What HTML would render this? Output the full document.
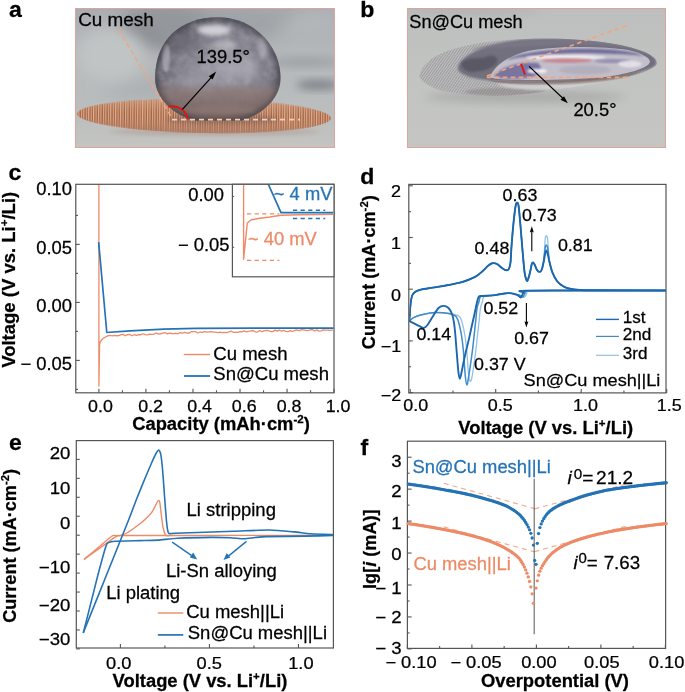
<!DOCTYPE html>
<html><head><meta charset="utf-8"><style>
html,body{margin:0;padding:0;background:#fff;}
svg{display:block;}
text{font-family:'Liberation Sans', Arial, sans-serif;stroke-width:0.25px;}
</style></head><body>
<svg width="685" height="692" viewBox="0 0 685 692">
<rect x="0" y="0" width="685" height="692" fill="#fff"/>
<defs>
<clipPath id="cpa"><rect x="75" y="8" width="260" height="140"/></clipPath>
<clipPath id="cpb"><rect x="407" y="8" width="259" height="140"/></clipPath>
<clipPath id="cpball"><path d="M155.1,78 C155.1,40 180.5,17.3 217.8,17.3 C252.5,17.3 280.5,44.5 280.5,78 A62.7,46 0 0 1 155.1,78 Z"/></clipPath><clipPath id="cpballb"><rect x="140" y="10" width="160" height="110.6"/></clipPath>
<clipPath id="cpdiskb"><path d="M419.3,75.5 C422,66 430,58 445,52 C465,44 495,40 525,39 C570,37 620,42 645,52 C655,57 658,61 656.5,64.5 C650,72 630,78 600,83 C570,88 540,93 510,95.5 C480,97 455,94 440,90 C428,86 420,81 419.3,75.5 Z"/></clipPath>
<filter id="bl05" x="-5%" y="-5%" width="110%" height="110%"><feGaussianBlur stdDeviation="0.45"/></filter>
<filter id="bl1" x="-20%" y="-20%" width="140%" height="140%"><feGaussianBlur stdDeviation="1"/></filter>
<filter id="bl2" x="-30%" y="-30%" width="160%" height="160%"><feGaussianBlur stdDeviation="2"/></filter>
<filter id="bl4" x="-50%" y="-50%" width="200%" height="200%"><feGaussianBlur stdDeviation="4"/></filter>
<filter id="bl8" x="-50%" y="-50%" width="200%" height="200%"><feGaussianBlur stdDeviation="8"/></filter>
<filter id="noise" x="0" y="0" width="100%" height="100%">
 <feTurbulence type="fractalNoise" baseFrequency="0.09" numOctaves="3" seed="4" result="t"/>
 <feColorMatrix in="t" type="matrix" values="0 0 0 0 0.5  0 0 0 0 0.5  0 0 0 0 0.52  0 0 0 1.6 -0.55" result="n"/>
 <feComposite in="n" in2="SourceGraphic" operator="in"/>
</filter>
<linearGradient id="bga" x1="0" y1="0" x2="0" y2="1">
 <stop offset="0" stop-color="#a9adb1"/><stop offset="0.3" stop-color="#b3b7b9"/>
 <stop offset="0.62" stop-color="#b9bcbd"/><stop offset="0.8" stop-color="#bdbfbe"/><stop offset="1" stop-color="#c4c5c2"/></linearGradient>
<pattern id="mesha" x="0" y="0" width="2.45" height="4" patternUnits="userSpaceOnUse">
 <rect width="2.45" height="4" fill="#a0603f"/><rect x="0" width="1.1" height="4" fill="#e4b496"/></pattern>
<linearGradient id="diskshade" x1="0" y1="0" x2="0" y2="1">
 <stop offset="0" stop-color="#ecc8b0" stop-opacity="0.35"/><stop offset="0.5" stop-color="#c08a70" stop-opacity="0.05"/><stop offset="1" stop-color="#9a6650" stop-opacity="0.35"/></linearGradient>
<radialGradient id="balla" cx="0.52" cy="0.5" r="0.56" fx="0.55" fy="0.45">
 <stop offset="0" stop-color="#a09eaa"/><stop offset="0.35" stop-color="#8c8a96"/><stop offset="0.65" stop-color="#7c7a86"/>
 <stop offset="0.87" stop-color="#62606c"/><stop offset="1" stop-color="#4a4854"/></radialGradient>
<linearGradient id="ballb" gradientUnits="userSpaceOnUse" x1="0" y1="15" x2="0" y2="125">
 <stop offset="0" stop-color="#8a7a78" stop-opacity="0"/><stop offset="0.6" stop-color="#8a7a78" stop-opacity="0"/>
 <stop offset="0.7" stop-color="#8c7874" stop-opacity="0.78"/><stop offset="0.88" stop-color="#7a6662" stop-opacity="0.88"/><stop offset="1" stop-color="#5c4a48" stop-opacity="0.95"/></linearGradient>
<linearGradient id="bgb" x1="0" y1="0" x2="0" y2="1">
 <stop offset="0" stop-color="#bdbfbe"/><stop offset="0.5" stop-color="#c2c4c2"/><stop offset="1" stop-color="#c5c6c4"/></linearGradient>
<pattern id="meshb" x="0" y="0" width="2.2" height="2.2" patternUnits="userSpaceOnUse" patternTransform="rotate(35)">
 <rect width="2.2" height="2.2" fill="#c4c4c4"/><rect width="0.8" height="2.2" fill="#949496"/><rect width="2.2" height="0.5" fill="#a8a8aa"/></pattern>
<linearGradient id="liq" x1="0" y1="0" x2="0" y2="1">
 <stop offset="0" stop-color="#8c8a96"/><stop offset="0.3" stop-color="#b8b5c0"/>
 <stop offset="0.6" stop-color="#c8c5cc"/><stop offset="1" stop-color="#a8a5ae"/></linearGradient>
</defs>
<g clip-path="url(#cpa)">
<rect x="75" y="8" width="260" height="140" fill="url(#bga)"/>
<ellipse cx="165" cy="28" rx="45" ry="20" fill="#868a90" filter="url(#bl8)"/>
<ellipse cx="300" cy="22" rx="45" ry="9" fill="#b4b8bb" filter="url(#bl8)"/>
<path d="M130,8 L300,8 L270,40 L160,45 Z" fill="#9a9ea2" opacity="0.7" filter="url(#bl8)"/>
<ellipse cx="305" cy="62" rx="35" ry="5" fill="#9da2a6" filter="url(#bl4)"/>
<ellipse cx="318" cy="85" rx="22" ry="5" fill="#7f848a" filter="url(#bl4)"/>
<ellipse cx="150" cy="88" rx="50" ry="12" fill="#adb1b3" filter="url(#bl8)"/>
<ellipse cx="110" cy="55" rx="35" ry="28" fill="#c0c4c4" filter="url(#bl8)"/>
<g transform="rotate(1 204 116)">
<ellipse cx="204" cy="116" rx="127" ry="17" fill="url(#mesha)" filter="url(#bl05)"/>
<ellipse cx="204" cy="116" rx="127" ry="17" fill="url(#diskshade)"/>
</g>
<ellipse cx="215" cy="132" rx="105" ry="3.5" fill="#a88478" opacity="0.4" filter="url(#bl2)"/>
<ellipse cx="222" cy="119.5" rx="56" ry="5" fill="#6a5a58" opacity="0.45" filter="url(#bl2)"/>
<g clip-path="url(#cpballb)">
<path d="M155.1,78 C155.1,40 180.5,17.3 217.8,17.3 C252.5,17.3 280.5,44.5 280.5,78 A62.7,46 0 0 1 155.1,78 Z" fill="url(#balla)"/>
<g clip-path="url(#cpball)">
<rect x="150" y="15" width="140" height="110" fill="#888" filter="url(#noise)" opacity="0.5"/>
<rect x="150" y="15" width="140" height="110" fill="url(#ballb)"/>
<ellipse cx="185" cy="42" rx="16" ry="12" fill="#5e5e66" opacity="0.5" filter="url(#bl4)"/>
<ellipse cx="214" cy="30" rx="16" ry="5.5" fill="#d8d8de" opacity="0.9" filter="url(#bl2)"/>
<ellipse cx="225" cy="45" rx="12" ry="5" fill="#c0c0c8" opacity="0.6" filter="url(#bl2)"/>
<ellipse cx="166" cy="58" rx="4" ry="14" fill="#bdbdc4" opacity="0.6" filter="url(#bl1)"/>
<ellipse cx="196" cy="80" rx="22" ry="9" fill="#a3a3ab" opacity="0.35" filter="url(#bl4)"/>
<ellipse cx="243" cy="68" rx="16" ry="10" fill="#b4b4bb" opacity="0.5" filter="url(#bl4)"/>
<ellipse cx="263" cy="46" rx="5" ry="13" fill="#c3c3ca" opacity="0.55" filter="url(#bl2)"/>
<ellipse cx="222" cy="110" rx="36" ry="5" fill="#94807c" opacity="0.5" filter="url(#bl2)"/>
<path d="M155.1,78 C155.1,40 180.5,17.3 217.8,17.3 C252.5,17.3 280.5,44.5 280.5,78 A62.7,46 0 0 1 155.1,78 Z" fill="none" stroke="#42424a" stroke-width="6" opacity="0.6" filter="url(#bl2)"/>
</g>
</g>
<line x1="118.5" y1="29.8" x2="172" y2="118.2" stroke="#f3a47f" stroke-width="1.6" stroke-dasharray="4.5,3.5"/>
<line x1="172" y1="119.6" x2="300" y2="119.6" stroke="#f8cdb5" stroke-width="1.6" stroke-dasharray="5,4"/>
<path d="M168.4,106.6 A16,16 0 0 1 187.8,119.3" fill="none" stroke="#e8100e" stroke-width="1.8"/>
<line x1="182.4" y1="109.3" x2="214" y2="74.3" stroke="#000" stroke-width="1.2"/>
<path d="M216.2,71.5 L208.8,76.3 L212.6,79.6 Z" fill="#000"/>
</g>
<rect x="75.5" y="8.5" width="259" height="139" fill="none" stroke="#d9a59d" stroke-width="1"/>
<text x="0" y="0" transform="translate(78.20,25.80) scale(1.05,1)" font-size="18" text-anchor="start" fill="#000" stroke="#000" >Cu mesh</text>
<text x="0" y="0" transform="translate(196.50,63.40) scale(1.05,1)" font-size="17.5" text-anchor="start" fill="#000" stroke="#000" >139.5°</text>
<g clip-path="url(#cpb)">
<rect x="407" y="8" width="259" height="140" fill="url(#bgb)"/>
<ellipse cx="470" cy="11" rx="70" ry="4" fill="#b0b2b2" filter="url(#bl4)"/>
<ellipse cx="525" cy="97" rx="100" ry="6" fill="#a6a7a6" opacity="0.85" filter="url(#bl4)"/>
<g clip-path="url(#cpdiskb)">
<rect x="415" y="35" width="245" height="65" fill="url(#meshb)"/>
<rect x="415" y="35" width="245" height="65" fill="#acacae" opacity="0.2"/>
<ellipse cx="505" cy="92" rx="40" ry="4" fill="#8a8080" opacity="0.5" filter="url(#bl1)"/>
<path d="M458,70 C457,64 462,59 470,54 C482,47 500,42 525,39.5 C570,36.5 625,42 648,53 C656,57 658,62 655,66 C644,73 616,78 586,80.5 C552,82.5 516,82 490,80.5 C475,79 462,76 458,70 Z" fill="#72707e" filter="url(#bl1)"/>
<path d="M462,62 C470,56 480,60 488,56 C494,54 500,58 496,64 C490,70 480,72 470,72 C464,70 460,67 462,62 Z" fill="#55535f" opacity="0.8" filter="url(#bl1)"/>
<path d="M470,50 C490,44 520,40 560,39 C600,38.5 630,43 645,50 C620,46 590,44 560,45 C530,46 500,48 470,50 Z" fill="#7a7888" opacity="0.8" filter="url(#bl1)"/>
<path d="M490,77 C494,66 508,56 528,51 C556,46 600,46 628,50 C642,53 650,58 650,62 C648,68 632,73 605,77 C575,80 535,80.5 505,79.5 C496,79 491,78 490,77 Z" fill="#c2bfca" filter="url(#bl05)"/>
<clipPath id="cpliq"><path d="M490,77 C494,66 508,56 528,51 C556,46 600,46 628,50 C642,53 650,58 650,62 C648,68 632,73 605,77 C575,80 535,80.5 505,79.5 C496,79 491,78 490,77 Z"/></clipPath>
<g clip-path="url(#cpliq)">
<path d="M505,60 C522,52 556,48 596,49 C620,49.5 636,52 644,56 C624,54 598,53 566,53.5 C540,54.5 520,57 505,60 Z" fill="#4e4a86" opacity="0.7" filter="url(#bl1)"/>
<ellipse cx="566" cy="57.5" rx="40" ry="2.6" fill="#f4f2f6" opacity="0.85" filter="url(#bl1)"/>
<ellipse cx="567" cy="60.5" rx="26" ry="2.2" fill="#c47882" opacity="0.85" filter="url(#bl1)"/>
<ellipse cx="612" cy="61" rx="18" ry="2" fill="#6a6098" opacity="0.5" filter="url(#bl1)"/>
<path d="M494,76 C502,67 516,62 538,63 C544,69 540,75 528,78 C514,79.5 500,79 494,76 Z" fill="#5c5490" opacity="0.7" filter="url(#bl1)"/>
<ellipse cx="537" cy="71" rx="10" ry="2.3" fill="#f6f4f8" opacity="0.9" filter="url(#bl1)"/>
<ellipse cx="585" cy="70" rx="26" ry="4.5" fill="#a8a4b2" opacity="0.55" filter="url(#bl1)"/>
<ellipse cx="630" cy="64" rx="12" ry="3.5" fill="#eceaf0" opacity="0.75" filter="url(#bl1)"/>
</g>
<path d="M488,80.5 C530,83 590,82 640,72 C630,78 600,84 560,85 C525,85.5 500,84 488,80.5 Z" fill="#7e6258" opacity="0.6"/>
<path d="M497,83.5 C540,86 600,84 640,75 C620,87 575,90.5 530,90 C512,89 502,87 497,83.5 Z" fill="#d6d6d8" opacity="0.8" filter="url(#bl1)"/>
</g>
<line x1="486.8" y1="76" x2="627" y2="25.5" stroke="#f3a47f" stroke-width="1.6" stroke-dasharray="4.5,3.5"/>
<line x1="486.8" y1="77.4" x2="627.4" y2="77.4" stroke="#f3a47f" stroke-width="1.6" stroke-dasharray="4.5,3.5"/>
<line x1="521" y1="63.7" x2="525" y2="74.6" stroke="#e8100e" stroke-width="1.8"/>
<line x1="529.1" y1="66.4" x2="565.5" y2="100.8" stroke="#000" stroke-width="1.2"/>
<path d="M567.9,103.3 L560.5,99.8 L564,96.2 Z" fill="#000"/>
</g>
<rect x="407.5" y="8.5" width="258" height="139" fill="none" stroke="#d9a59d" stroke-width="1"/>
<text x="0" y="0" transform="translate(409.30,27.70) scale(1.01,1)" font-size="18" text-anchor="start" fill="#000" stroke="#000" >Sn@Cu mesh</text>
<text x="0" y="0" transform="translate(573.40,115.50) scale(1.05,1)" font-size="17.5" text-anchor="start" fill="#000" stroke="#000" >20.5°</text>
<clipPath id="cpc"><rect x="76" y="184.3" width="257.5" height="208"/></clipPath>
<g clip-path="url(#cpc)">
<path d="M98.90,180.00 L98.90,386.10 L99.60,345.00 L100.30,341.70 L103.00,338.50 L107.20,336.00 L110.00,335.39 L112.20,335.85 L114.40,335.43 L116.60,335.76 L118.80,335.70 L121.00,334.59 L123.20,334.39 L125.40,335.78 L127.60,334.64 L129.80,334.50 L132.00,335.77 L134.20,334.72 L136.40,335.28 L138.60,334.54 L140.80,334.73 L143.00,333.75 L145.20,334.52 L147.40,334.84 L149.60,334.12 L151.80,334.42 L154.00,334.19 L156.20,333.00 L158.40,334.15 L160.60,333.75 L162.80,333.13 L165.00,332.55 L167.20,333.95 L169.40,333.14 L171.60,333.49 L173.80,333.68 L176.00,333.28 L178.20,333.55 L180.40,332.51 L182.60,333.14 L184.80,332.40 L187.00,333.18 L189.20,332.98 L191.40,331.55 L193.60,331.59 L195.80,331.70 L198.00,333.01 L200.20,332.02 L202.40,332.33 L204.60,331.71 L206.80,332.04 L209.00,331.79 L211.20,331.69 L213.40,332.08 L215.60,332.04 L217.80,332.58 L220.00,332.15 L222.20,332.56 L224.40,332.39 L226.60,332.60 L228.80,331.99 L231.00,331.04 L233.20,332.26 L235.40,332.41 L237.60,332.27 L239.80,331.63 L242.00,331.85 L244.20,330.91 L246.40,331.99 L248.60,331.49 L250.80,330.94 L253.00,330.51 L255.20,331.89 L257.40,332.10 L259.60,330.45 L261.80,331.69 L264.00,330.95 L266.20,330.45 L268.40,330.67 L270.60,331.49 L272.80,331.65 L275.00,330.12 L277.20,331.11 L279.40,330.05 L281.60,331.23 L283.80,330.49 L286.00,331.45 L288.20,331.59 L290.40,330.70 L292.60,331.56 L294.80,330.28 L297.00,329.83 L299.20,330.73 L301.40,329.67 L303.60,329.94 L305.80,330.28 L308.00,330.61 L310.20,329.76 L312.40,329.52 L314.60,330.97 L316.80,329.94 L319.00,331.06 L321.20,330.91 L323.40,329.95 L325.60,330.06 L327.80,330.13 L330.00,330.32 L332.20,330.20" fill="none" stroke="#EE8A66" stroke-width="1.3" stroke-linejoin="round" stroke-linecap="round" />
<path d="M98.70,242.80 L106.80,332.50 L130.00,330.80 L163.90,329.20 L196.00,328.40 L260.00,328.20 L334.00,328.10" fill="none" stroke="#2473B5" stroke-width="1.7" stroke-linejoin="round" stroke-linecap="round" />
</g>
<rect x="75.8" y="184.3" width="258.2" height="208.5" fill="none" stroke="#555555" stroke-width="1.2"/>
<line x1="75.80" y1="215.40" x2="78.00" y2="215.40" stroke="#555555" stroke-width="1.1" />
<line x1="75.80" y1="244.40" x2="79.80" y2="244.40" stroke="#555555" stroke-width="1.1" />
<line x1="75.80" y1="273.40" x2="78.00" y2="273.40" stroke="#555555" stroke-width="1.1" />
<line x1="75.80" y1="302.40" x2="79.80" y2="302.40" stroke="#555555" stroke-width="1.1" />
<line x1="75.80" y1="331.40" x2="78.00" y2="331.40" stroke="#555555" stroke-width="1.1" />
<line x1="75.80" y1="360.40" x2="79.80" y2="360.40" stroke="#555555" stroke-width="1.1" />
<line x1="75.80" y1="389.40" x2="78.00" y2="389.40" stroke="#555555" stroke-width="1.1" />
<line x1="98.90" y1="392.80" x2="98.90" y2="388.80" stroke="#555555" stroke-width="1.1" />
<line x1="122.42" y1="392.80" x2="122.42" y2="390.30" stroke="#555555" stroke-width="1.1" />
<line x1="145.94" y1="392.80" x2="145.94" y2="388.80" stroke="#555555" stroke-width="1.1" />
<line x1="169.46" y1="392.80" x2="169.46" y2="390.30" stroke="#555555" stroke-width="1.1" />
<line x1="192.98" y1="392.80" x2="192.98" y2="388.80" stroke="#555555" stroke-width="1.1" />
<line x1="216.50" y1="392.80" x2="216.50" y2="390.30" stroke="#555555" stroke-width="1.1" />
<line x1="240.02" y1="392.80" x2="240.02" y2="388.80" stroke="#555555" stroke-width="1.1" />
<line x1="263.54" y1="392.80" x2="263.54" y2="390.30" stroke="#555555" stroke-width="1.1" />
<line x1="287.06" y1="392.80" x2="287.06" y2="388.80" stroke="#555555" stroke-width="1.1" />
<line x1="310.58" y1="392.80" x2="310.58" y2="390.30" stroke="#555555" stroke-width="1.1" />
<line x1="334.10" y1="392.80" x2="334.10" y2="388.80" stroke="#555555" stroke-width="1.1" />
<text x="0" y="0" transform="translate(72.00,194.60) scale(1.05,1)" font-size="17.5" text-anchor="end" fill="#000" stroke="#000" >0.10</text>
<text x="0" y="0" transform="translate(72.00,254.00) scale(1.05,1)" font-size="17.5" text-anchor="end" fill="#000" stroke="#000" >0.05</text>
<text x="0" y="0" transform="translate(72.00,311.80) scale(1.05,1)" font-size="17.5" text-anchor="end" fill="#000" stroke="#000" >0.00</text>
<text x="0" y="0" transform="translate(72.00,369.60) scale(1.05,1)" font-size="17.5" text-anchor="end" fill="#000" stroke="#000" >− 0.05</text>
<text x="0" y="0" transform="translate(100.40,412.30) scale(1.08,1)" font-size="16.5" text-anchor="middle" fill="#000" stroke="#000" >0.0</text>
<text x="0" y="0" transform="translate(150.60,412.30) scale(1.08,1)" font-size="16.5" text-anchor="middle" fill="#000" stroke="#000" >0.2</text>
<text x="0" y="0" transform="translate(199.50,412.30) scale(1.08,1)" font-size="16.5" text-anchor="middle" fill="#000" stroke="#000" >0.4</text>
<text x="0" y="0" transform="translate(244.20,412.30) scale(1.08,1)" font-size="16.5" text-anchor="middle" fill="#000" stroke="#000" >0.6</text>
<text x="0" y="0" transform="translate(289.00,412.30) scale(1.08,1)" font-size="16.5" text-anchor="middle" fill="#000" stroke="#000" >0.8</text>
<text x="0" y="0" transform="translate(338.00,412.30) scale(1.08,1)" font-size="16.5" text-anchor="middle" fill="#000" stroke="#000" >1.0</text>
<rect x="232.4" y="184.3" width="101.6" height="92.5" fill="#fff" stroke="#555" stroke-width="1.2"/>
<clipPath id="cpci"><rect x="233" y="184.9" width="100" height="91.3"/></clipPath>
<g clip-path="url(#cpci)">
<line x1="247.00" y1="213.80" x2="279.40" y2="213.80" stroke="#EE8A66" stroke-width="1.3" stroke-dasharray="4.2,3.4" />
<line x1="247.00" y1="260.30" x2="279.40" y2="260.30" stroke="#EE8A66" stroke-width="1.3" stroke-dasharray="4.2,3.4" />
<line x1="293.00" y1="210.20" x2="325.20" y2="210.20" stroke="#2473B5" stroke-width="1.5" stroke-dasharray="4.2,3.4" />
<line x1="293.00" y1="218.50" x2="325.20" y2="218.50" stroke="#2473B5" stroke-width="1.5" stroke-dasharray="4.2,3.4" />
<path d="M243.60,180.00 L243.60,259.20 L247.30,223.00 L251.30,219.80 L260.00,218.30 L270.00,217.00 L281.00,215.30 L300.00,214.80 L320.00,214.50 L334.00,214.20" fill="none" stroke="#EE8A66" stroke-width="1.4" stroke-linejoin="round" stroke-linecap="round" />
<path d="M267.30,182.00 L281.00,212.60 L334.00,212.60" fill="none" stroke="#2473B5" stroke-width="1.7" stroke-linejoin="round" stroke-linecap="round" />
</g>
<line x1="232.40" y1="196.40" x2="234.20" y2="196.40" stroke="#555555" stroke-width="1.0" />
<line x1="232.40" y1="247.30" x2="234.20" y2="247.30" stroke="#555555" stroke-width="1.0" />
<text x="0" y="0" transform="translate(224.00,200.90) scale(1.05,1)" font-size="17.5" text-anchor="end" fill="#000" stroke="#000" >0.00</text>
<text x="0" y="0" transform="translate(229.50,251.10) scale(1.05,1)" font-size="17.5" text-anchor="end" fill="#000" stroke="#000" >− 0.05</text>
<text x="0" y="0" transform="translate(273.80,200.10) scale(1.02,1)" font-size="18" text-anchor="start" fill="#2473B5" stroke="#2473B5" >~ 4 mV</text>
<text x="0" y="0" transform="translate(247.90,245.00) scale(1.02,1)" font-size="18" text-anchor="start" fill="#EE8A66" stroke="#EE8A66" >~ 40 mV</text>
<line x1="183.80" y1="354.50" x2="210.10" y2="354.50" stroke="#EE8A66" stroke-width="1.4" />
<line x1="184.00" y1="376.00" x2="210.10" y2="376.00" stroke="#2473B5" stroke-width="1.8" />
<text x="0" y="0" transform="translate(213.30,360.10) scale(1.03,1)" font-size="18" text-anchor="start" fill="#000" stroke="#000" >Cu mesh</text>
<text x="0" y="0" transform="translate(213.30,379.80) scale(1.03,1)" font-size="18" text-anchor="start" fill="#000" stroke="#000" >Sn@Cu mesh</text>
<text x="0" y="0" transform="translate(221.00,429.80) scale(1.05,1)" font-size="17.5" text-anchor="middle" fill="#000" stroke="#000" font-weight="bold" >Capacity (mAh·cm<tspan font-size="11" dy="-7">-2</tspan><tspan dy="7">)</tspan></text>
<text x="0" y="0" transform="translate(15.20,279.80) rotate(-90) scale(1.057,1)" font-size="17.5" text-anchor="middle" fill="#000" stroke="#000" font-weight="bold">Voltage (V vs. Li<tspan font-size="11" dy="-7">+</tspan><tspan dy="7">/Li)</tspan></text>
<clipPath id="cpd"><rect x="409.4" y="185" width="256.4" height="207"/></clipPath>
<g clip-path="url(#cpd)">
<path d="M667.00,290.60 C655.83,290.60 622.97,290.58 600.00,290.60 C577.03,290.62 541.38,290.30 529.20,290.70 C517.02,291.10 527.65,291.95 526.90,293.00 C526.15,294.05 525.77,296.55 524.70,297.00 C523.63,297.45 521.87,296.10 520.50,295.70 C519.13,295.30 518.33,295.03 516.50,294.60 C514.67,294.17 511.75,293.25 509.50,293.10 C507.25,292.95 505.08,293.42 503.00,293.70 C500.92,293.98 499.33,294.48 497.00,294.80 C494.67,295.12 490.85,295.37 489.00,295.60 C487.15,295.83 486.82,295.93 485.90,296.20 C484.98,296.47 484.15,296.07 483.50,297.20 C482.85,298.33 482.50,301.20 482.00,303.00 C481.50,304.80 480.97,305.17 480.50,308.00 C480.03,310.83 479.70,315.42 479.20,320.00 C478.70,324.58 478.05,330.50 477.50,335.50 C476.95,340.50 476.53,344.93 475.90,350.00 C475.27,355.07 474.35,361.40 473.70,365.90 C473.05,370.40 472.57,374.40 472.00,377.00 C471.43,379.60 470.85,381.67 470.30,381.50 C469.75,381.33 469.28,381.13 468.70,376.00 C468.12,370.87 467.42,357.37 466.80,350.70 C466.18,344.03 465.63,340.12 465.00,336.00 C464.37,331.88 463.68,328.83 463.00,326.00 C462.32,323.17 461.65,320.70 460.90,319.00 C460.15,317.30 460.48,316.72 458.50,315.80 C456.52,314.88 452.85,314.03 449.00,313.50 C445.15,312.97 439.73,312.45 435.40,312.60 C431.07,312.75 426.55,313.62 423.00,314.40 C419.45,315.18 416.38,316.18 414.10,317.30 C411.82,318.42 410.10,320.47 409.30,321.10" fill="none" stroke="#93c1e6" stroke-width="1.3" stroke-linejoin="round" stroke-linecap="round" />
<path d="M409.30,321.10 C409.52,318.25 410.12,308.27 410.60,304.00 C411.08,299.73 411.38,297.57 412.20,295.50 C413.02,293.43 414.03,292.58 415.50,291.60 C416.97,290.62 418.08,290.27 421.00,289.60 C423.92,288.93 428.67,288.32 433.00,287.60 C437.33,286.88 442.50,286.13 447.00,285.30 C451.50,284.47 456.50,283.48 460.00,282.60 C463.50,281.72 465.33,281.03 468.00,280.00 C470.67,278.97 473.50,277.93 476.00,276.40 C478.50,274.87 481.00,272.57 483.00,270.80 C485.00,269.03 486.45,267.07 488.00,265.80 C489.55,264.53 490.80,263.50 492.30,263.20 C493.80,262.90 495.38,263.20 497.00,264.00 C498.62,264.80 500.43,266.95 502.00,268.00 C503.57,269.05 505.23,270.20 506.40,270.30 C507.57,270.40 508.32,269.90 509.00,268.60 C509.68,267.30 510.07,266.43 510.50,262.50 C510.93,258.57 511.08,251.75 511.60,245.00 C512.12,238.25 512.93,228.50 513.60,222.00 C514.27,215.50 515.03,209.23 515.60,206.00 C516.17,202.77 516.50,202.60 517.00,202.60 C517.50,202.60 518.02,202.10 518.60,206.00 C519.18,209.90 519.83,218.42 520.50,226.00 C521.17,233.58 521.92,243.75 522.60,251.50 C523.28,259.25 523.95,267.72 524.60,272.50 C525.25,277.28 525.97,278.95 526.50,280.20 C527.03,281.45 527.22,281.28 527.80,280.00 C528.38,278.72 529.33,275.17 530.00,272.50 C530.67,269.83 531.28,265.68 531.80,264.00 C532.32,262.32 532.63,262.32 533.10,262.40 C533.57,262.48 533.95,263.23 534.60,264.50 C535.25,265.77 536.13,268.77 537.00,270.00 C537.87,271.23 539.00,271.98 539.80,271.90 C540.60,271.82 541.17,271.15 541.80,269.50 C542.43,267.85 543.03,267.07 543.60,262.00 C544.17,256.93 544.75,243.42 545.20,239.10 C545.65,234.78 545.90,236.10 546.30,236.10 C546.70,236.10 547.07,234.78 547.60,239.10 C548.13,243.42 548.68,256.40 549.50,262.00 C550.32,267.60 551.20,269.45 552.50,272.70 C553.80,275.95 555.45,279.20 557.30,281.50 C559.15,283.80 561.48,285.28 563.60,286.50 C565.72,287.72 567.27,288.23 570.00,288.80 C572.73,289.37 575.00,289.65 580.00,289.90 C585.00,290.15 585.50,290.22 600.00,290.30 C614.50,290.38 655.83,290.38 667.00,290.40" fill="none" stroke="#93c1e6" stroke-width="1.3" stroke-linejoin="round" stroke-linecap="round" />
<path d="M667.00,290.60 C655.83,290.60 623.25,290.58 600.00,290.60 C576.75,290.62 539.97,290.30 527.50,290.70 C515.03,291.10 525.95,291.95 525.20,293.00 C524.45,294.05 523.78,296.55 523.00,297.00 C522.22,297.45 521.58,296.10 520.50,295.70 C519.42,295.30 518.33,295.03 516.50,294.60 C514.67,294.17 511.75,293.25 509.50,293.10 C507.25,292.95 505.08,293.42 503.00,293.70 C500.92,293.98 499.33,294.48 497.00,294.80 C494.67,295.12 491.42,295.37 489.00,295.60 C486.58,295.83 483.98,295.93 482.50,296.20 C481.02,296.47 480.75,296.07 480.10,297.20 C479.45,298.33 479.10,301.20 478.60,303.00 C478.10,304.80 477.57,305.17 477.10,308.00 C476.63,310.83 476.30,315.42 475.80,320.00 C475.30,324.58 474.65,330.50 474.10,335.50 C473.55,340.50 473.13,344.93 472.50,350.00 C471.87,355.07 470.95,361.40 470.30,365.90 C469.65,370.40 469.17,373.83 468.60,377.00 C468.03,380.17 467.45,385.07 466.90,384.90 C466.35,384.73 465.88,381.70 465.30,376.00 C464.72,370.30 464.02,357.37 463.40,350.70 C462.78,344.03 462.23,340.12 461.60,336.00 C460.97,331.88 460.28,328.83 459.60,326.00 C458.92,323.17 458.25,320.70 457.50,319.00 C456.75,317.30 456.52,316.72 455.10,315.80 C453.68,314.88 452.28,314.03 449.00,313.50 C445.72,312.97 439.73,312.45 435.40,312.60 C431.07,312.75 426.55,313.62 423.00,314.40 C419.45,315.18 416.38,316.18 414.10,317.30 C411.82,318.42 410.10,320.47 409.30,321.10" fill="none" stroke="#3f8ac8" stroke-width="1.5" stroke-linejoin="round" stroke-linecap="round" />
<path d="M409.30,321.10 C409.52,318.25 410.12,308.27 410.60,304.00 C411.08,299.73 411.38,297.57 412.20,295.50 C413.02,293.43 414.03,292.58 415.50,291.60 C416.97,290.62 418.08,290.27 421.00,289.60 C423.92,288.93 428.67,288.32 433.00,287.60 C437.33,286.88 442.50,286.13 447.00,285.30 C451.50,284.47 456.50,283.48 460.00,282.60 C463.50,281.72 465.33,281.03 468.00,280.00 C470.67,278.97 473.50,277.93 476.00,276.40 C478.50,274.87 481.00,272.57 483.00,270.80 C485.00,269.03 486.45,267.07 488.00,265.80 C489.55,264.53 490.80,263.50 492.30,263.20 C493.80,262.90 495.38,263.20 497.00,264.00 C498.62,264.80 500.43,266.95 502.00,268.00 C503.57,269.05 505.23,270.20 506.40,270.30 C507.57,270.40 508.32,269.90 509.00,268.60 C509.68,267.30 510.07,266.43 510.50,262.50 C510.93,258.57 511.08,251.75 511.60,245.00 C512.12,238.25 512.93,228.50 513.60,222.00 C514.27,215.50 515.03,209.23 515.60,206.00 C516.17,202.77 516.50,202.60 517.00,202.60 C517.50,202.60 518.02,202.10 518.60,206.00 C519.18,209.90 519.83,218.42 520.50,226.00 C521.17,233.58 521.92,243.75 522.60,251.50 C523.28,259.25 523.95,267.72 524.60,272.50 C525.25,277.28 525.97,278.95 526.50,280.20 C527.03,281.45 527.22,281.28 527.80,280.00 C528.38,278.72 529.33,275.17 530.00,272.50 C530.67,269.83 531.28,265.68 531.80,264.00 C532.32,262.32 532.63,262.32 533.10,262.40 C533.57,262.48 533.95,263.23 534.60,264.50 C535.25,265.77 536.13,268.77 537.00,270.00 C537.87,271.23 539.00,271.98 539.80,271.90 C540.60,271.82 541.17,271.15 541.80,269.50 C542.43,267.85 543.03,265.60 543.60,262.00 C544.17,258.40 544.75,250.75 545.20,247.90 C545.65,245.05 545.90,244.90 546.30,244.90 C546.70,244.90 547.07,245.05 547.60,247.90 C548.13,250.75 548.68,257.87 549.50,262.00 C550.32,266.13 551.20,269.45 552.50,272.70 C553.80,275.95 555.45,279.20 557.30,281.50 C559.15,283.80 561.48,285.28 563.60,286.50 C565.72,287.72 567.27,288.23 570.00,288.80 C572.73,289.37 575.00,289.65 580.00,289.90 C585.00,290.15 585.50,290.22 600.00,290.30 C614.50,290.38 655.83,290.38 667.00,290.40" fill="none" stroke="#3f8ac8" stroke-width="1.5" stroke-linejoin="round" stroke-linecap="round" />
<path d="M667.00,290.60 C655.83,290.60 623.58,290.58 600.00,290.60 C576.42,290.62 538.25,290.38 525.50,290.70 C512.75,291.02 524.22,291.42 523.50,292.50 C522.78,293.58 521.90,296.53 521.20,297.20 C520.50,297.87 520.08,296.93 519.30,296.50 C518.52,296.07 518.13,295.17 516.50,294.60 C514.87,294.03 511.75,293.25 509.50,293.10 C507.25,292.95 505.08,293.42 503.00,293.70 C500.92,293.98 499.05,294.48 497.00,294.80 C494.95,295.12 493.20,295.40 490.70,295.60 C488.20,295.80 484.02,295.77 482.00,296.00 C479.98,296.23 479.50,295.67 478.60,297.00 C477.70,298.33 477.23,301.37 476.60,304.00 C475.97,306.63 475.60,309.13 474.80,312.80 C474.00,316.47 472.82,321.45 471.80,326.00 C470.78,330.55 469.70,335.77 468.70,340.10 C467.70,344.43 466.68,348.18 465.80,352.00 C464.92,355.82 464.10,359.67 463.40,363.00 C462.70,366.33 462.18,369.37 461.60,372.00 C461.02,374.63 460.43,378.80 459.90,378.80 C459.37,378.80 458.95,376.68 458.40,372.00 C457.85,367.32 457.17,357.53 456.60,350.70 C456.03,343.87 455.50,336.05 455.00,331.00 C454.50,325.95 454.13,323.32 453.60,320.40 C453.07,317.48 452.65,315.57 451.80,313.50 C450.95,311.43 449.85,309.27 448.50,308.00 C447.15,306.73 445.37,305.90 443.70,305.90 C442.03,305.90 440.40,306.10 438.50,308.00 C436.60,309.90 434.13,314.47 432.30,317.30 C430.47,320.13 428.88,323.23 427.50,325.00 C426.12,326.77 425.33,327.70 424.00,327.90 C422.67,328.10 421.17,326.97 419.50,326.20 C417.83,325.43 415.70,324.15 414.00,323.30 C412.30,322.45 410.08,321.47 409.30,321.10" fill="none" stroke="#1d67ad" stroke-width="1.9" stroke-linejoin="round" stroke-linecap="round" />
<path d="M409.30,321.10 C409.52,318.25 410.12,308.27 410.60,304.00 C411.08,299.73 411.38,297.57 412.20,295.50 C413.02,293.43 414.03,292.58 415.50,291.60 C416.97,290.62 418.08,290.27 421.00,289.60 C423.92,288.93 428.67,288.32 433.00,287.60 C437.33,286.88 442.50,286.13 447.00,285.30 C451.50,284.47 456.50,283.48 460.00,282.60 C463.50,281.72 465.33,281.03 468.00,280.00 C470.67,278.97 473.50,277.93 476.00,276.40 C478.50,274.87 481.00,272.57 483.00,270.80 C485.00,269.03 486.45,267.07 488.00,265.80 C489.55,264.53 490.80,263.50 492.30,263.20 C493.80,262.90 495.38,263.20 497.00,264.00 C498.62,264.80 500.43,266.95 502.00,268.00 C503.57,269.05 505.23,270.20 506.40,270.30 C507.57,270.40 508.32,269.90 509.00,268.60 C509.68,267.30 510.07,266.43 510.50,262.50 C510.93,258.57 511.08,251.75 511.60,245.00 C512.12,238.25 512.93,228.50 513.60,222.00 C514.27,215.50 515.03,209.23 515.60,206.00 C516.17,202.77 516.50,202.60 517.00,202.60 C517.50,202.60 518.02,202.10 518.60,206.00 C519.18,209.90 519.83,218.42 520.50,226.00 C521.17,233.58 521.92,243.75 522.60,251.50 C523.28,259.25 523.95,267.72 524.60,272.50 C525.25,277.28 525.97,278.95 526.50,280.20 C527.03,281.45 527.22,281.28 527.80,280.00 C528.38,278.72 529.33,275.17 530.00,272.50 C530.67,269.83 531.28,265.68 531.80,264.00 C532.32,262.32 532.63,262.32 533.10,262.40 C533.57,262.48 533.95,263.23 534.60,264.50 C535.25,265.77 536.13,268.77 537.00,270.00 C537.87,271.23 539.00,271.98 539.80,271.90 C540.60,271.82 541.17,271.15 541.80,269.50 C542.43,267.85 543.03,264.67 543.60,262.00 C544.17,259.33 544.75,255.42 545.20,253.50 C545.65,251.58 545.90,250.50 546.30,250.50 C546.70,250.50 547.07,251.58 547.60,253.50 C548.13,255.42 548.68,258.80 549.50,262.00 C550.32,265.20 551.20,269.45 552.50,272.70 C553.80,275.95 555.45,279.20 557.30,281.50 C559.15,283.80 561.48,285.28 563.60,286.50 C565.72,287.72 567.27,288.23 570.00,288.80 C572.73,289.37 575.00,289.65 580.00,289.90 C585.00,290.15 585.50,290.22 600.00,290.30 C614.50,290.38 655.83,290.38 667.00,290.40" fill="none" stroke="#1d67ad" stroke-width="1.9" stroke-linejoin="round" stroke-linecap="round" />
</g>
<rect x="408.8" y="184.4" width="257.2" height="208.49999999999997" fill="none" stroke="#555555" stroke-width="1.2"/>
<line x1="408.80" y1="185.80" x2="412.80" y2="185.80" stroke="#555555" stroke-width="1.1" />
<line x1="408.80" y1="211.65" x2="411.00" y2="211.65" stroke="#555555" stroke-width="1.1" />
<line x1="408.80" y1="237.50" x2="412.80" y2="237.50" stroke="#555555" stroke-width="1.1" />
<line x1="408.80" y1="263.35" x2="411.00" y2="263.35" stroke="#555555" stroke-width="1.1" />
<line x1="408.80" y1="289.20" x2="412.80" y2="289.20" stroke="#555555" stroke-width="1.1" />
<line x1="408.80" y1="315.05" x2="411.00" y2="315.05" stroke="#555555" stroke-width="1.1" />
<line x1="408.80" y1="340.90" x2="412.80" y2="340.90" stroke="#555555" stroke-width="1.1" />
<line x1="408.80" y1="366.75" x2="411.00" y2="366.75" stroke="#555555" stroke-width="1.1" />
<line x1="408.80" y1="392.60" x2="412.80" y2="392.60" stroke="#555555" stroke-width="1.1" />
<line x1="410.20" y1="392.90" x2="410.20" y2="388.90" stroke="#555555" stroke-width="1.1" />
<line x1="452.95" y1="392.90" x2="452.95" y2="390.40" stroke="#555555" stroke-width="1.1" />
<line x1="495.70" y1="392.90" x2="495.70" y2="388.90" stroke="#555555" stroke-width="1.1" />
<line x1="538.45" y1="392.90" x2="538.45" y2="390.40" stroke="#555555" stroke-width="1.1" />
<line x1="581.20" y1="392.90" x2="581.20" y2="388.90" stroke="#555555" stroke-width="1.1" />
<line x1="623.95" y1="392.90" x2="623.95" y2="390.40" stroke="#555555" stroke-width="1.1" />
<line x1="666.70" y1="392.90" x2="666.70" y2="388.90" stroke="#555555" stroke-width="1.1" />
<text x="0" y="0" transform="translate(401.00,197.20) scale(1.1,1)" font-size="16.3" text-anchor="end" fill="#000" stroke="#000" >2</text>
<text x="0" y="0" transform="translate(401.00,249.00) scale(1.1,1)" font-size="16.3" text-anchor="end" fill="#000" stroke="#000" >1</text>
<text x="0" y="0" transform="translate(401.00,301.30) scale(1.1,1)" font-size="16.3" text-anchor="end" fill="#000" stroke="#000" >0</text>
<text x="0" y="0" transform="translate(401.30,352.00) scale(1.1,1)" font-size="16.3" text-anchor="end" fill="#000" stroke="#000" >−1</text>
<text x="0" y="0" transform="translate(401.30,400.50) scale(1.1,1)" font-size="16.3" text-anchor="end" fill="#000" stroke="#000" >−2</text>
<text x="0" y="0" transform="translate(415.70,410.80) scale(1.1,1)" font-size="16.3" text-anchor="middle" fill="#000" stroke="#000" >0.0</text>
<text x="0" y="0" transform="translate(500.20,410.80) scale(1.1,1)" font-size="16.3" text-anchor="middle" fill="#000" stroke="#000" >0.5</text>
<text x="0" y="0" transform="translate(585.50,410.80) scale(1.1,1)" font-size="16.3" text-anchor="middle" fill="#000" stroke="#000" >1.0</text>
<text x="0" y="0" transform="translate(669.20,410.80) scale(1.1,1)" font-size="16.3" text-anchor="middle" fill="#000" stroke="#000" >1.5</text>
<text x="0" y="0" transform="translate(502.60,201.10) scale(1.05,1)" font-size="17" text-anchor="start" fill="#000" stroke="#000" >0.63</text>
<text x="0" y="0" transform="translate(522.00,221.40) scale(1.05,1)" font-size="17" text-anchor="start" fill="#000" stroke="#000" >0.73</text>
<text x="0" y="0" transform="translate(474.60,254.20) scale(1.05,1)" font-size="17" text-anchor="start" fill="#000" stroke="#000" >0.48</text>
<text x="0" y="0" transform="translate(557.90,251.30) scale(1.05,1)" font-size="17" text-anchor="start" fill="#000" stroke="#000" >0.81</text>
<text x="0" y="0" transform="translate(483.40,313.50) scale(1.05,1)" font-size="17" text-anchor="start" fill="#000" stroke="#000" >0.52</text>
<text x="0" y="0" transform="translate(514.20,343.80) scale(1.05,1)" font-size="17" text-anchor="start" fill="#000" stroke="#000" >0.67</text>
<text x="0" y="0" transform="translate(416.40,340.40) scale(1.05,1)" font-size="17" text-anchor="start" fill="#000" stroke="#000" >0.14</text>
<text x="0" y="0" transform="translate(474.00,370.00) scale(1.05,1)" font-size="17" text-anchor="start" fill="#000" stroke="#000" >0.37 V</text>
<text x="0" y="0" transform="translate(523.60,385.50) scale(1.05,1)" font-size="17.3" text-anchor="start" fill="#000" stroke="#000" >Sn@Cu mesh||Li</text>
<line x1="531.80" y1="251.20" x2="531.80" y2="229.00" stroke="#000" stroke-width="1.1" />
<path d="M531.8,226.2 L529.8,232.5 L531.8,231.5 L533.8,232.5 Z" fill="#000"/>
<line x1="526.40" y1="302.90" x2="526.40" y2="324.50" stroke="#000" stroke-width="1.1" />
<path d="M526.4,327.6 L524.4,321.3 L526.4,322.3 L528.4,321.3 Z" fill="#000"/>
<line x1="596.00" y1="319.40" x2="618.90" y2="319.40" stroke="#1d67ad" stroke-width="1.4" />
<line x1="596.00" y1="336.40" x2="618.90" y2="336.40" stroke="#3f8ac8" stroke-width="1.2" />
<line x1="596.00" y1="355.30" x2="618.90" y2="355.30" stroke="#93c1e6" stroke-width="1.2" />
<text x="0" y="0" transform="translate(622.80,323.30) scale(1.05,1)" font-size="16.3" text-anchor="start" fill="#000" stroke="#000" >1st</text>
<text x="0" y="0" transform="translate(622.80,340.30) scale(1.05,1)" font-size="16.3" text-anchor="start" fill="#000" stroke="#000" >2nd</text>
<text x="0" y="0" transform="translate(622.80,358.70) scale(1.05,1)" font-size="16.3" text-anchor="start" fill="#000" stroke="#000" >3rd</text>
<text x="0" y="0" transform="translate(545.70,433.90) scale(1.05,1)" font-size="17.5" text-anchor="middle" fill="#000" stroke="#000" font-weight="bold" >Voltage (V vs. Li<tspan font-size="11" dy="-7">+</tspan><tspan dy="7">/Li)</tspan></text>
<text x="0" y="0" transform="translate(375.00,272.20) rotate(-90) scale(1.035,1)" font-size="17.5" text-anchor="middle" fill="#000" stroke="#000" font-weight="bold">Current (mA·cm<tspan font-size="11" dy="-7">-2</tspan><tspan dy="7">)</tspan></text>
<clipPath id="cpe"><rect x="76.9" y="441.2" width="256" height="206.2"/></clipPath>
<g clip-path="url(#cpe)">
<path d="M84.50,559.10 C86.31,557.57 109.60,537.77 111.70,536.20 C113.80,534.63 114.78,535.65 116.00,535.60 C117.22,535.55 127.07,535.51 130.00,535.50 C132.93,535.49 152.00,535.51 160.00,535.50 C168.00,535.49 238.40,535.41 250.00,535.40 C261.60,535.39 328.40,535.31 334.00,535.30" fill="none" stroke="#EE8A66" stroke-width="1.4" stroke-linejoin="round" stroke-linecap="round" />
<path d="M84.50,559.10 C88.54,556.19 110.07,540.43 114.80,537.30 C119.53,534.17 118.37,536.17 120.00,535.60 C121.63,535.03 124.69,534.31 127.00,533.00 C129.31,531.69 134.90,527.60 137.30,525.80 C139.70,524.00 143.09,521.26 145.00,519.50 C146.91,517.74 150.20,514.47 151.60,512.60 C153.00,510.73 154.61,507.11 155.50,505.50 C156.39,503.89 157.73,500.90 158.30,500.50 C158.87,500.10 159.40,500.57 159.80,502.50 C160.20,504.43 160.85,511.60 161.30,515.00 C161.75,518.40 162.59,525.29 163.20,528.00 C163.81,530.71 164.99,534.29 165.90,535.30 C166.81,536.31 169.45,535.56 170.00,535.60" fill="none" stroke="#EE8A66" stroke-width="1.4" stroke-linejoin="round" stroke-linecap="round" />
<path d="M83.50,632.30 C84.91,626.70 95.35,584.93 97.60,576.30 C99.85,567.67 104.91,549.37 106.00,546.00 C107.09,542.63 107.60,543.07 108.50,542.60 C109.40,542.13 111.85,541.50 115.00,541.30 C118.15,541.10 135.73,540.72 140.00,540.60 C144.27,540.48 153.93,540.33 157.70,540.10 C161.47,539.87 172.37,538.57 177.70,538.30 C183.03,538.03 205.77,537.45 211.00,537.40 C216.23,537.35 226.67,537.66 230.00,537.80 C233.33,537.94 241.80,538.83 244.30,538.80 C246.80,538.77 252.78,537.72 255.00,537.50 C257.22,537.28 261.47,536.74 266.50,536.60 C271.53,536.46 298.55,536.21 305.30,536.10 C312.05,535.99 331.13,535.56 334.00,535.50" fill="none" stroke="#2473B5" stroke-width="1.6" stroke-linejoin="round" stroke-linecap="round" />
<path d="M83.50,632.30 C85.75,626.70 101.49,587.53 106.00,576.30 C110.51,565.07 125.47,527.91 128.60,520.00 C131.73,512.09 135.56,501.60 137.30,497.20 C139.04,492.80 144.53,479.52 146.00,476.00 C147.47,472.48 151.00,464.25 152.00,462.00 C153.00,459.75 155.36,454.68 156.00,453.50 C156.64,452.32 157.97,450.30 158.40,450.20 C158.83,450.10 159.98,451.52 160.30,452.50 C160.62,453.48 161.33,457.75 161.60,460.00 C161.87,462.25 162.70,471.30 163.00,475.00 C163.30,478.70 164.28,492.70 164.60,497.00 C164.92,501.30 165.90,514.70 166.20,518.00 C166.50,521.30 167.32,528.45 167.60,530.00 C167.88,531.55 168.26,533.17 169.00,533.50 C169.74,533.83 168.58,533.52 175.00,533.30 C181.42,533.08 223.77,531.63 233.20,531.30 C242.63,530.97 263.20,529.94 269.30,530.00 C275.40,530.06 290.04,531.52 294.20,531.90 C298.36,532.28 306.92,533.52 310.90,533.80 C314.88,534.08 331.69,534.61 334.00,534.70" fill="none" stroke="#2473B5" stroke-width="1.6" stroke-linejoin="round" stroke-linecap="round" />
</g>
<rect x="76.3" y="440.6" width="257.09999999999997" height="207.39999999999998" fill="none" stroke="#555555" stroke-width="1.2"/>
<line x1="76.30" y1="459.40" x2="79.80" y2="459.40" stroke="#555555" stroke-width="1.1" />
<line x1="76.30" y1="478.35" x2="79.80" y2="478.35" stroke="#555555" stroke-width="1.1" />
<line x1="76.30" y1="497.30" x2="79.80" y2="497.30" stroke="#555555" stroke-width="1.1" />
<line x1="76.30" y1="516.25" x2="79.80" y2="516.25" stroke="#555555" stroke-width="1.1" />
<line x1="76.30" y1="535.20" x2="79.80" y2="535.20" stroke="#555555" stroke-width="1.1" />
<line x1="76.30" y1="554.15" x2="79.80" y2="554.15" stroke="#555555" stroke-width="1.1" />
<line x1="76.30" y1="573.10" x2="79.80" y2="573.10" stroke="#555555" stroke-width="1.1" />
<line x1="76.30" y1="592.05" x2="79.80" y2="592.05" stroke="#555555" stroke-width="1.1" />
<line x1="76.30" y1="611.00" x2="79.80" y2="611.00" stroke="#555555" stroke-width="1.1" />
<line x1="76.30" y1="629.95" x2="79.80" y2="629.95" stroke="#555555" stroke-width="1.1" />
<line x1="76.30" y1="648.90" x2="79.80" y2="648.90" stroke="#555555" stroke-width="1.1" />
<line x1="120.40" y1="648.00" x2="120.40" y2="644.00" stroke="#555555" stroke-width="1.1" />
<line x1="164.92" y1="648.00" x2="164.92" y2="645.50" stroke="#555555" stroke-width="1.1" />
<line x1="209.44" y1="648.00" x2="209.44" y2="644.00" stroke="#555555" stroke-width="1.1" />
<line x1="253.96" y1="648.00" x2="253.96" y2="645.50" stroke="#555555" stroke-width="1.1" />
<line x1="298.48" y1="648.00" x2="298.48" y2="644.00" stroke="#555555" stroke-width="1.1" />
<text x="0" y="0" transform="translate(70.30,459.40) scale(1.14,1)" font-size="16.3" text-anchor="end" fill="#000" stroke="#000" >20</text>
<text x="0" y="0" transform="translate(70.30,493.60) scale(1.14,1)" font-size="16.3" text-anchor="end" fill="#000" stroke="#000" >10</text>
<text x="0" y="0" transform="translate(70.30,529.40) scale(1.14,1)" font-size="16.3" text-anchor="end" fill="#000" stroke="#000" >0</text>
<text x="0" y="0" transform="translate(70.30,572.50) scale(1.14,1)" font-size="16.3" text-anchor="end" fill="#000" stroke="#000" >−10</text>
<text x="0" y="0" transform="translate(70.30,610.50) scale(1.14,1)" font-size="16.3" text-anchor="end" fill="#000" stroke="#000" >−20</text>
<text x="0" y="0" transform="translate(70.30,645.30) scale(1.14,1)" font-size="16.3" text-anchor="end" fill="#000" stroke="#000" >−30</text>
<text x="0" y="0" transform="translate(118.70,669.00) scale(1.12,1)" font-size="16.3" text-anchor="middle" fill="#000" stroke="#000" >0.0</text>
<text x="0" y="0" transform="translate(209.30,669.00) scale(1.12,1)" font-size="16.3" text-anchor="middle" fill="#000" stroke="#000" >0.5</text>
<text x="0" y="0" transform="translate(300.90,669.00) scale(1.12,1)" font-size="16.3" text-anchor="middle" fill="#000" stroke="#000" >1.0</text>
<text x="0" y="0" transform="translate(186.60,515.80) scale(1.05,1)" font-size="17.6" text-anchor="start" fill="#000" stroke="#000" >Li stripping</text>
<text x="0" y="0" transform="translate(166.00,576.50) scale(1.05,1)" font-size="17.6" text-anchor="start" fill="#000" stroke="#000" >Li-Sn alloying</text>
<text x="0" y="0" transform="translate(106.20,598.90) scale(1.05,1)" font-size="17.6" text-anchor="start" fill="#000" stroke="#000" >Li plating</text>
<line x1="157.80" y1="613.00" x2="183.30" y2="613.00" stroke="#EE8A66" stroke-width="1.4" />
<line x1="157.80" y1="634.90" x2="183.30" y2="634.90" stroke="#2473B5" stroke-width="1.7" />
<text x="0" y="0" transform="translate(186.20,618.20) scale(1.05,1)" font-size="17.6" text-anchor="start" fill="#000" stroke="#000" >Cu mesh||Li</text>
<text x="0" y="0" transform="translate(187.80,638.60) scale(1.05,1)" font-size="17.6" text-anchor="start" fill="#000" stroke="#000" >Sn@Cu mesh||Li</text>
<line x1="172.20" y1="542.20" x2="193.50" y2="556.90" stroke="#2473B5" stroke-width="1.4" />
<path d="M197.2,559.4 L189.8,557.6 L193.2,552.6 Z" fill="#2473B5"/>
<line x1="246.50" y1="541.40" x2="226.80" y2="557.40" stroke="#2473B5" stroke-width="1.4" />
<path d="M223.5,560 L226.7,553.1 L230.3,557.6 Z" fill="#2473B5"/>
<text x="0" y="0" transform="translate(200.00,686.60) scale(1.05,1)" font-size="17.5" text-anchor="middle" fill="#000" stroke="#000" font-weight="bold" >Voltage (V vs. Li<tspan font-size="11" dy="-7">+</tspan><tspan dy="7">/Li)</tspan></text>
<text x="0" y="0" transform="translate(16.00,545.90) rotate(-90) scale(1.035,1)" font-size="17.5" text-anchor="middle" fill="#000" stroke="#000" font-weight="bold">Current (mA·cm<tspan font-size="11" dy="-7">-2</tspan><tspan dy="7">)</tspan></text>
<rect x="407.4" y="441.2" width="258.20000000000005" height="207.2" fill="none" stroke="#555555" stroke-width="1.2"/>
<line x1="407.40" y1="457.20" x2="411.60" y2="457.20" stroke="#555555" stroke-width="1.1" />
<line x1="407.40" y1="473.18" x2="409.60" y2="473.18" stroke="#555555" stroke-width="1.1" />
<line x1="407.40" y1="489.15" x2="411.60" y2="489.15" stroke="#555555" stroke-width="1.1" />
<line x1="407.40" y1="505.12" x2="409.60" y2="505.12" stroke="#555555" stroke-width="1.1" />
<line x1="407.40" y1="521.10" x2="411.60" y2="521.10" stroke="#555555" stroke-width="1.1" />
<line x1="407.40" y1="537.08" x2="409.60" y2="537.08" stroke="#555555" stroke-width="1.1" />
<line x1="407.40" y1="553.05" x2="411.60" y2="553.05" stroke="#555555" stroke-width="1.1" />
<line x1="407.40" y1="569.02" x2="409.60" y2="569.02" stroke="#555555" stroke-width="1.1" />
<line x1="407.40" y1="585.00" x2="411.60" y2="585.00" stroke="#555555" stroke-width="1.1" />
<line x1="407.40" y1="600.98" x2="409.60" y2="600.98" stroke="#555555" stroke-width="1.1" />
<line x1="407.40" y1="616.95" x2="411.60" y2="616.95" stroke="#555555" stroke-width="1.1" />
<line x1="407.40" y1="632.92" x2="409.60" y2="632.92" stroke="#555555" stroke-width="1.1" />
<line x1="407.40" y1="648.90" x2="411.60" y2="648.90" stroke="#555555" stroke-width="1.1" />
<line x1="407.40" y1="648.40" x2="407.40" y2="644.40" stroke="#555555" stroke-width="1.1" />
<line x1="439.65" y1="648.40" x2="439.65" y2="645.90" stroke="#555555" stroke-width="1.1" />
<line x1="471.90" y1="648.40" x2="471.90" y2="644.40" stroke="#555555" stroke-width="1.1" />
<line x1="504.15" y1="648.40" x2="504.15" y2="645.90" stroke="#555555" stroke-width="1.1" />
<line x1="536.40" y1="648.40" x2="536.40" y2="644.40" stroke="#555555" stroke-width="1.1" />
<line x1="568.65" y1="648.40" x2="568.65" y2="645.90" stroke="#555555" stroke-width="1.1" />
<line x1="600.90" y1="648.40" x2="600.90" y2="644.40" stroke="#555555" stroke-width="1.1" />
<line x1="633.15" y1="648.40" x2="633.15" y2="645.90" stroke="#555555" stroke-width="1.1" />
<line x1="665.40" y1="648.40" x2="665.40" y2="644.40" stroke="#555555" stroke-width="1.1" />
<text x="0" y="0" transform="translate(401.60,467.00) scale(1.14,1)" font-size="16.3" text-anchor="end" fill="#000" stroke="#000" >3</text>
<text x="0" y="0" transform="translate(401.60,497.20) scale(1.14,1)" font-size="16.3" text-anchor="end" fill="#000" stroke="#000" >2</text>
<text x="0" y="0" transform="translate(401.60,528.60) scale(1.14,1)" font-size="16.3" text-anchor="end" fill="#000" stroke="#000" >1</text>
<text x="0" y="0" transform="translate(401.60,560.20) scale(1.14,1)" font-size="16.3" text-anchor="end" fill="#000" stroke="#000" >0</text>
<text x="0" y="0" transform="translate(401.60,594.40) scale(1.14,1)" font-size="16.3" text-anchor="end" fill="#000" stroke="#000" >− 1</text>
<text x="0" y="0" transform="translate(401.60,623.40) scale(1.14,1)" font-size="16.3" text-anchor="end" fill="#000" stroke="#000" >− 2</text>
<text x="0" y="0" transform="translate(401.60,653.70) scale(1.14,1)" font-size="16.3" text-anchor="end" fill="#000" stroke="#000" >− 3</text>
<text x="0" y="0" transform="translate(411.00,667.50) scale(1.12,1)" font-size="16.3" text-anchor="middle" fill="#000" stroke="#000" >− 0.10</text>
<text x="0" y="0" transform="translate(476.00,667.50) scale(1.12,1)" font-size="16.3" text-anchor="middle" fill="#000" stroke="#000" >− 0.05</text>
<text x="0" y="0" transform="translate(538.90,667.50) scale(1.12,1)" font-size="16.3" text-anchor="middle" fill="#000" stroke="#000" >0.00</text>
<text x="0" y="0" transform="translate(601.80,667.50) scale(1.12,1)" font-size="16.3" text-anchor="middle" fill="#000" stroke="#000" >0.05</text>
<text x="0" y="0" transform="translate(666.60,667.50) scale(1.12,1)" font-size="16.3" text-anchor="middle" fill="#000" stroke="#000" >0.10</text>
<line x1="443.80" y1="483.30" x2="534.50" y2="508.60" stroke="#f2a98c" stroke-width="1.1" stroke-dasharray="5,4" />
<line x1="534.30" y1="508.90" x2="625.50" y2="484.40" stroke="#f2a98c" stroke-width="1.1" stroke-dasharray="5,4" />
<line x1="443.80" y1="526.90" x2="534.70" y2="551.90" stroke="#f2a98c" stroke-width="1.1" stroke-dasharray="5,4" />
<line x1="534.30" y1="551.70" x2="625.50" y2="526.40" stroke="#f2a98c" stroke-width="1.1" stroke-dasharray="5,4" />
<line x1="534.20" y1="478.80" x2="534.20" y2="634.20" stroke="#666" stroke-width="1.1" />
<g fill="#EE8A66"><circle cx="533.43" cy="603.29" r="1.65"/><circle cx="532.14" cy="593.78" r="1.65"/><circle cx="530.85" cy="586.96" r="1.65"/><circle cx="529.56" cy="581.38" r="1.65"/><circle cx="528.27" cy="576.91" r="1.65"/><circle cx="526.98" cy="573.16" r="1.65"/><circle cx="525.69" cy="569.90" r="1.65"/><circle cx="524.40" cy="567.05" r="1.65"/><circle cx="523.11" cy="564.52" r="1.65"/><circle cx="521.82" cy="562.25" r="1.65"/><circle cx="520.53" cy="560.18" r="1.65"/><circle cx="519.24" cy="558.34" r="1.65"/><circle cx="517.95" cy="557.09" r="1.65"/><circle cx="516.66" cy="555.94" r="1.65"/><circle cx="515.37" cy="554.85" r="1.65"/><circle cx="514.08" cy="553.84" r="1.65"/><circle cx="512.79" cy="552.89" r="1.65"/><circle cx="511.50" cy="551.99" r="1.65"/><circle cx="510.21" cy="551.13" r="1.65"/><circle cx="508.92" cy="550.32" r="1.65"/><circle cx="507.63" cy="549.55" r="1.65"/><circle cx="506.34" cy="548.80" r="1.65"/><circle cx="505.05" cy="548.06" r="1.65"/><circle cx="503.76" cy="547.36" r="1.65"/><circle cx="502.47" cy="546.69" r="1.65"/><circle cx="501.18" cy="546.04" r="1.65"/><circle cx="499.89" cy="545.42" r="1.65"/><circle cx="498.60" cy="544.82" r="1.65"/><circle cx="497.31" cy="544.24" r="1.65"/><circle cx="496.02" cy="543.68" r="1.65"/><circle cx="494.73" cy="543.13" r="1.65"/><circle cx="493.44" cy="542.61" r="1.65"/><circle cx="492.15" cy="542.10" r="1.65"/><circle cx="490.86" cy="541.60" r="1.65"/><circle cx="489.57" cy="541.12" r="1.65"/><circle cx="488.28" cy="540.66" r="1.65"/><circle cx="486.99" cy="540.20" r="1.65"/><circle cx="485.70" cy="539.76" r="1.65"/><circle cx="484.41" cy="539.33" r="1.65"/><circle cx="483.12" cy="538.91" r="1.65"/><circle cx="481.83" cy="538.50" r="1.65"/><circle cx="480.54" cy="538.10" r="1.65"/><circle cx="479.25" cy="537.71" r="1.65"/><circle cx="477.96" cy="537.33" r="1.65"/><circle cx="476.67" cy="536.96" r="1.65"/><circle cx="475.38" cy="536.60" r="1.65"/><circle cx="474.09" cy="536.24" r="1.65"/><circle cx="472.80" cy="535.89" r="1.65"/><circle cx="471.51" cy="535.55" r="1.65"/><circle cx="470.22" cy="535.22" r="1.65"/><circle cx="468.93" cy="534.89" r="1.65"/><circle cx="467.64" cy="534.56" r="1.65"/><circle cx="466.35" cy="534.25" r="1.65"/><circle cx="465.06" cy="533.94" r="1.65"/><circle cx="463.77" cy="533.63" r="1.65"/><circle cx="462.48" cy="533.33" r="1.65"/><circle cx="461.19" cy="533.04" r="1.65"/><circle cx="459.90" cy="532.75" r="1.65"/><circle cx="458.61" cy="532.47" r="1.65"/><circle cx="457.32" cy="532.19" r="1.65"/><circle cx="456.03" cy="531.91" r="1.65"/><circle cx="454.74" cy="531.64" r="1.65"/><circle cx="453.45" cy="531.38" r="1.65"/><circle cx="452.16" cy="531.12" r="1.65"/><circle cx="450.87" cy="530.86" r="1.65"/><circle cx="449.58" cy="530.60" r="1.65"/><circle cx="448.29" cy="530.35" r="1.65"/><circle cx="447.00" cy="530.11" r="1.65"/><circle cx="445.71" cy="529.86" r="1.65"/><circle cx="444.42" cy="529.61" r="1.65"/><circle cx="443.13" cy="529.35" r="1.65"/><circle cx="441.84" cy="529.10" r="1.65"/><circle cx="440.55" cy="528.85" r="1.65"/><circle cx="439.26" cy="528.61" r="1.65"/><circle cx="437.97" cy="528.37" r="1.65"/><circle cx="436.68" cy="528.13" r="1.65"/><circle cx="435.39" cy="527.90" r="1.65"/><circle cx="434.10" cy="527.67" r="1.65"/><circle cx="432.81" cy="527.44" r="1.65"/><circle cx="431.52" cy="527.22" r="1.65"/><circle cx="430.23" cy="526.99" r="1.65"/><circle cx="428.94" cy="526.78" r="1.65"/><circle cx="427.65" cy="526.56" r="1.65"/><circle cx="426.36" cy="526.34" r="1.65"/><circle cx="425.07" cy="526.13" r="1.65"/><circle cx="423.78" cy="525.92" r="1.65"/><circle cx="422.49" cy="525.72" r="1.65"/><circle cx="421.20" cy="525.51" r="1.65"/><circle cx="419.91" cy="525.31" r="1.65"/><circle cx="418.62" cy="525.11" r="1.65"/><circle cx="417.33" cy="524.91" r="1.65"/><circle cx="416.04" cy="524.72" r="1.65"/><circle cx="414.75" cy="524.52" r="1.65"/><circle cx="413.46" cy="524.33" r="1.65"/><circle cx="412.17" cy="524.14" r="1.65"/><circle cx="410.88" cy="523.95" r="1.65"/><circle cx="409.59" cy="523.77" r="1.65"/><circle cx="408.30" cy="523.58" r="1.65"/><circle cx="536.01" cy="588.05" r="1.65"/><circle cx="537.30" cy="580.84" r="1.65"/><circle cx="538.59" cy="575.22" r="1.65"/><circle cx="539.88" cy="571.17" r="1.65"/><circle cx="541.17" cy="568.15" r="1.65"/><circle cx="542.46" cy="565.73" r="1.65"/><circle cx="543.75" cy="563.70" r="1.65"/><circle cx="545.04" cy="561.55" r="1.65"/><circle cx="546.33" cy="559.67" r="1.65"/><circle cx="547.62" cy="558.00" r="1.65"/><circle cx="548.91" cy="556.49" r="1.65"/><circle cx="550.20" cy="555.12" r="1.65"/><circle cx="551.49" cy="553.87" r="1.65"/><circle cx="552.78" cy="552.71" r="1.65"/><circle cx="554.07" cy="551.64" r="1.65"/><circle cx="555.36" cy="550.64" r="1.65"/><circle cx="556.65" cy="549.70" r="1.65"/><circle cx="557.94" cy="548.81" r="1.65"/><circle cx="559.23" cy="547.98" r="1.65"/><circle cx="560.52" cy="547.20" r="1.65"/><circle cx="561.81" cy="546.50" r="1.65"/><circle cx="563.10" cy="545.83" r="1.65"/><circle cx="564.39" cy="545.19" r="1.65"/><circle cx="565.68" cy="544.58" r="1.65"/><circle cx="566.97" cy="543.99" r="1.65"/><circle cx="568.26" cy="543.43" r="1.65"/><circle cx="569.55" cy="542.89" r="1.65"/><circle cx="570.84" cy="542.37" r="1.65"/><circle cx="572.13" cy="541.86" r="1.65"/><circle cx="573.42" cy="541.38" r="1.65"/><circle cx="574.71" cy="540.91" r="1.65"/><circle cx="576.00" cy="540.45" r="1.65"/><circle cx="577.29" cy="540.01" r="1.65"/><circle cx="578.58" cy="539.59" r="1.65"/><circle cx="579.87" cy="539.17" r="1.65"/><circle cx="581.16" cy="538.77" r="1.65"/><circle cx="582.45" cy="538.38" r="1.65"/><circle cx="583.74" cy="537.99" r="1.65"/><circle cx="585.03" cy="537.61" r="1.65"/><circle cx="586.32" cy="537.23" r="1.65"/><circle cx="587.61" cy="536.86" r="1.65"/><circle cx="588.90" cy="536.50" r="1.65"/><circle cx="590.19" cy="536.15" r="1.65"/><circle cx="591.48" cy="535.80" r="1.65"/><circle cx="592.77" cy="535.47" r="1.65"/><circle cx="594.06" cy="535.14" r="1.65"/><circle cx="595.35" cy="534.82" r="1.65"/><circle cx="596.64" cy="534.50" r="1.65"/><circle cx="597.93" cy="534.20" r="1.65"/><circle cx="599.22" cy="533.90" r="1.65"/><circle cx="600.51" cy="533.60" r="1.65"/><circle cx="601.80" cy="533.31" r="1.65"/><circle cx="603.09" cy="533.03" r="1.65"/><circle cx="604.38" cy="532.75" r="1.65"/><circle cx="605.67" cy="532.47" r="1.65"/><circle cx="606.96" cy="532.21" r="1.65"/><circle cx="608.25" cy="531.94" r="1.65"/><circle cx="609.54" cy="531.68" r="1.65"/><circle cx="610.83" cy="531.43" r="1.65"/><circle cx="612.12" cy="531.18" r="1.65"/><circle cx="613.41" cy="530.93" r="1.65"/><circle cx="614.70" cy="530.69" r="1.65"/><circle cx="615.99" cy="530.45" r="1.65"/><circle cx="617.28" cy="530.22" r="1.65"/><circle cx="618.57" cy="529.99" r="1.65"/><circle cx="619.86" cy="529.77" r="1.65"/><circle cx="621.15" cy="529.55" r="1.65"/><circle cx="622.44" cy="529.34" r="1.65"/><circle cx="623.73" cy="529.13" r="1.65"/><circle cx="625.02" cy="528.93" r="1.65"/><circle cx="626.31" cy="528.73" r="1.65"/><circle cx="627.60" cy="528.53" r="1.65"/><circle cx="628.89" cy="528.33" r="1.65"/><circle cx="630.18" cy="528.13" r="1.65"/><circle cx="631.47" cy="527.94" r="1.65"/><circle cx="632.76" cy="527.75" r="1.65"/><circle cx="634.05" cy="527.57" r="1.65"/><circle cx="635.34" cy="527.38" r="1.65"/><circle cx="636.63" cy="527.20" r="1.65"/><circle cx="637.92" cy="527.02" r="1.65"/><circle cx="639.21" cy="526.84" r="1.65"/><circle cx="640.50" cy="526.67" r="1.65"/><circle cx="641.79" cy="526.50" r="1.65"/><circle cx="643.08" cy="526.33" r="1.65"/><circle cx="644.37" cy="526.16" r="1.65"/><circle cx="645.66" cy="525.99" r="1.65"/><circle cx="646.95" cy="525.82" r="1.65"/><circle cx="648.24" cy="525.66" r="1.65"/><circle cx="649.53" cy="525.50" r="1.65"/><circle cx="650.82" cy="525.34" r="1.65"/><circle cx="652.11" cy="525.18" r="1.65"/><circle cx="653.40" cy="525.03" r="1.65"/><circle cx="654.69" cy="524.87" r="1.65"/><circle cx="655.98" cy="524.72" r="1.65"/><circle cx="657.27" cy="524.57" r="1.65"/><circle cx="658.56" cy="524.42" r="1.65"/><circle cx="659.85" cy="524.27" r="1.65"/><circle cx="661.14" cy="524.13" r="1.65"/><circle cx="662.43" cy="523.98" r="1.65"/><circle cx="663.72" cy="523.84" r="1.65"/><circle cx="665.01" cy="523.70" r="1.65"/><circle cx="666.30" cy="523.56" r="1.65"/></g>
<g fill="#2473B5"><circle cx="534.72" cy="560.40" r="1.65"/><circle cx="533.43" cy="545.12" r="1.65"/><circle cx="532.14" cy="538.02" r="1.65"/><circle cx="530.85" cy="533.34" r="1.65"/><circle cx="529.56" cy="529.85" r="1.65"/><circle cx="528.27" cy="527.06" r="1.65"/><circle cx="526.98" cy="524.61" r="1.65"/><circle cx="525.69" cy="522.39" r="1.65"/><circle cx="524.40" cy="520.44" r="1.65"/><circle cx="523.11" cy="518.71" r="1.65"/><circle cx="521.82" cy="517.16" r="1.65"/><circle cx="520.53" cy="515.74" r="1.65"/><circle cx="519.24" cy="514.46" r="1.65"/><circle cx="517.95" cy="513.35" r="1.65"/><circle cx="516.66" cy="512.31" r="1.65"/><circle cx="515.37" cy="511.35" r="1.65"/><circle cx="514.08" cy="510.45" r="1.65"/><circle cx="512.79" cy="509.60" r="1.65"/><circle cx="511.50" cy="508.79" r="1.65"/><circle cx="510.21" cy="508.03" r="1.65"/><circle cx="508.92" cy="507.31" r="1.65"/><circle cx="507.63" cy="506.62" r="1.65"/><circle cx="506.34" cy="506.01" r="1.65"/><circle cx="505.05" cy="505.45" r="1.65"/><circle cx="503.76" cy="504.91" r="1.65"/><circle cx="502.47" cy="504.39" r="1.65"/><circle cx="501.18" cy="503.89" r="1.65"/><circle cx="499.89" cy="503.41" r="1.65"/><circle cx="498.60" cy="502.94" r="1.65"/><circle cx="497.31" cy="502.49" r="1.65"/><circle cx="496.02" cy="502.06" r="1.65"/><circle cx="494.73" cy="501.64" r="1.65"/><circle cx="493.44" cy="501.24" r="1.65"/><circle cx="492.15" cy="500.84" r="1.65"/><circle cx="490.86" cy="500.46" r="1.65"/><circle cx="489.57" cy="500.09" r="1.65"/><circle cx="488.28" cy="499.73" r="1.65"/><circle cx="486.99" cy="499.38" r="1.65"/><circle cx="485.70" cy="498.99" r="1.65"/><circle cx="484.41" cy="498.61" r="1.65"/><circle cx="483.12" cy="498.23" r="1.65"/><circle cx="481.83" cy="497.86" r="1.65"/><circle cx="480.54" cy="497.50" r="1.65"/><circle cx="479.25" cy="497.15" r="1.65"/><circle cx="477.96" cy="496.81" r="1.65"/><circle cx="476.67" cy="496.47" r="1.65"/><circle cx="475.38" cy="496.14" r="1.65"/><circle cx="474.09" cy="495.82" r="1.65"/><circle cx="472.80" cy="495.50" r="1.65"/><circle cx="471.51" cy="495.20" r="1.65"/><circle cx="470.22" cy="494.89" r="1.65"/><circle cx="468.93" cy="494.60" r="1.65"/><circle cx="467.64" cy="494.31" r="1.65"/><circle cx="466.35" cy="494.02" r="1.65"/><circle cx="465.06" cy="493.74" r="1.65"/><circle cx="463.77" cy="493.47" r="1.65"/><circle cx="462.48" cy="493.20" r="1.65"/><circle cx="461.19" cy="492.93" r="1.65"/><circle cx="459.90" cy="492.67" r="1.65"/><circle cx="458.61" cy="492.42" r="1.65"/><circle cx="457.32" cy="492.16" r="1.65"/><circle cx="456.03" cy="491.92" r="1.65"/><circle cx="454.74" cy="491.67" r="1.65"/><circle cx="453.45" cy="491.43" r="1.65"/><circle cx="452.16" cy="491.20" r="1.65"/><circle cx="450.87" cy="490.96" r="1.65"/><circle cx="449.58" cy="490.74" r="1.65"/><circle cx="448.29" cy="490.51" r="1.65"/><circle cx="447.00" cy="490.29" r="1.65"/><circle cx="445.71" cy="490.06" r="1.65"/><circle cx="444.42" cy="489.82" r="1.65"/><circle cx="443.13" cy="489.58" r="1.65"/><circle cx="441.84" cy="489.34" r="1.65"/><circle cx="440.55" cy="489.10" r="1.65"/><circle cx="439.26" cy="488.87" r="1.65"/><circle cx="437.97" cy="488.64" r="1.65"/><circle cx="436.68" cy="488.42" r="1.65"/><circle cx="435.39" cy="488.19" r="1.65"/><circle cx="434.10" cy="487.97" r="1.65"/><circle cx="432.81" cy="487.76" r="1.65"/><circle cx="431.52" cy="487.54" r="1.65"/><circle cx="430.23" cy="487.33" r="1.65"/><circle cx="428.94" cy="487.12" r="1.65"/><circle cx="427.65" cy="486.91" r="1.65"/><circle cx="426.36" cy="486.71" r="1.65"/><circle cx="425.07" cy="486.51" r="1.65"/><circle cx="423.78" cy="486.31" r="1.65"/><circle cx="422.49" cy="486.11" r="1.65"/><circle cx="421.20" cy="485.91" r="1.65"/><circle cx="419.91" cy="485.72" r="1.65"/><circle cx="418.62" cy="485.53" r="1.65"/><circle cx="417.33" cy="485.34" r="1.65"/><circle cx="416.04" cy="485.15" r="1.65"/><circle cx="414.75" cy="484.97" r="1.65"/><circle cx="413.46" cy="484.79" r="1.65"/><circle cx="412.17" cy="484.61" r="1.65"/><circle cx="410.88" cy="484.43" r="1.65"/><circle cx="409.59" cy="484.25" r="1.65"/><circle cx="408.30" cy="484.08" r="1.65"/><circle cx="536.01" cy="564.32" r="1.65"/><circle cx="537.30" cy="543.31" r="1.65"/><circle cx="538.59" cy="533.54" r="1.65"/><circle cx="539.88" cy="527.53" r="1.65"/><circle cx="541.17" cy="523.95" r="1.65"/><circle cx="542.46" cy="521.08" r="1.65"/><circle cx="543.75" cy="518.70" r="1.65"/><circle cx="545.04" cy="516.65" r="1.65"/><circle cx="546.33" cy="514.87" r="1.65"/><circle cx="547.62" cy="513.28" r="1.65"/><circle cx="548.91" cy="511.94" r="1.65"/><circle cx="550.20" cy="510.87" r="1.65"/><circle cx="551.49" cy="509.89" r="1.65"/><circle cx="552.78" cy="508.98" r="1.65"/><circle cx="554.07" cy="508.14" r="1.65"/><circle cx="555.36" cy="507.35" r="1.65"/><circle cx="556.65" cy="506.61" r="1.65"/><circle cx="557.94" cy="505.92" r="1.65"/><circle cx="559.23" cy="505.26" r="1.65"/><circle cx="560.52" cy="504.64" r="1.65"/><circle cx="561.81" cy="504.05" r="1.65"/><circle cx="563.10" cy="503.49" r="1.65"/><circle cx="564.39" cy="502.95" r="1.65"/><circle cx="565.68" cy="502.44" r="1.65"/><circle cx="566.97" cy="501.94" r="1.65"/><circle cx="568.26" cy="501.47" r="1.65"/><circle cx="569.55" cy="501.02" r="1.65"/><circle cx="570.84" cy="500.58" r="1.65"/><circle cx="572.13" cy="500.12" r="1.65"/><circle cx="573.42" cy="499.61" r="1.65"/><circle cx="574.71" cy="499.11" r="1.65"/><circle cx="576.00" cy="498.63" r="1.65"/><circle cx="577.29" cy="498.16" r="1.65"/><circle cx="578.58" cy="497.71" r="1.65"/><circle cx="579.87" cy="497.27" r="1.65"/><circle cx="581.16" cy="496.84" r="1.65"/><circle cx="582.45" cy="496.43" r="1.65"/><circle cx="583.74" cy="496.02" r="1.65"/><circle cx="585.03" cy="495.63" r="1.65"/><circle cx="586.32" cy="495.25" r="1.65"/><circle cx="587.61" cy="494.87" r="1.65"/><circle cx="588.90" cy="494.51" r="1.65"/><circle cx="590.19" cy="494.15" r="1.65"/><circle cx="591.48" cy="493.81" r="1.65"/><circle cx="592.77" cy="493.47" r="1.65"/><circle cx="594.06" cy="493.13" r="1.65"/><circle cx="595.35" cy="492.81" r="1.65"/><circle cx="596.64" cy="492.49" r="1.65"/><circle cx="597.93" cy="492.18" r="1.65"/><circle cx="599.22" cy="491.88" r="1.65"/><circle cx="600.51" cy="491.58" r="1.65"/><circle cx="601.80" cy="491.28" r="1.65"/><circle cx="603.09" cy="491.00" r="1.65"/><circle cx="604.38" cy="490.71" r="1.65"/><circle cx="605.67" cy="490.44" r="1.65"/><circle cx="606.96" cy="490.17" r="1.65"/><circle cx="608.25" cy="489.95" r="1.65"/><circle cx="609.54" cy="489.74" r="1.65"/><circle cx="610.83" cy="489.53" r="1.65"/><circle cx="612.12" cy="489.32" r="1.65"/><circle cx="613.41" cy="489.11" r="1.65"/><circle cx="614.70" cy="488.91" r="1.65"/><circle cx="615.99" cy="488.71" r="1.65"/><circle cx="617.28" cy="488.52" r="1.65"/><circle cx="618.57" cy="488.33" r="1.65"/><circle cx="619.86" cy="488.14" r="1.65"/><circle cx="621.15" cy="487.95" r="1.65"/><circle cx="622.44" cy="487.77" r="1.65"/><circle cx="623.73" cy="487.59" r="1.65"/><circle cx="625.02" cy="487.41" r="1.65"/><circle cx="626.31" cy="487.24" r="1.65"/><circle cx="627.60" cy="487.06" r="1.65"/><circle cx="628.89" cy="486.89" r="1.65"/><circle cx="630.18" cy="486.72" r="1.65"/><circle cx="631.47" cy="486.56" r="1.65"/><circle cx="632.76" cy="486.39" r="1.65"/><circle cx="634.05" cy="486.23" r="1.65"/><circle cx="635.34" cy="486.07" r="1.65"/><circle cx="636.63" cy="485.92" r="1.65"/><circle cx="637.92" cy="485.76" r="1.65"/><circle cx="639.21" cy="485.61" r="1.65"/><circle cx="640.50" cy="485.46" r="1.65"/><circle cx="641.79" cy="485.31" r="1.65"/><circle cx="643.08" cy="485.16" r="1.65"/><circle cx="644.37" cy="485.01" r="1.65"/><circle cx="645.66" cy="484.87" r="1.65"/><circle cx="646.95" cy="484.73" r="1.65"/><circle cx="648.24" cy="484.58" r="1.65"/><circle cx="649.53" cy="484.44" r="1.65"/><circle cx="650.82" cy="484.31" r="1.65"/><circle cx="652.11" cy="484.17" r="1.65"/><circle cx="653.40" cy="484.04" r="1.65"/><circle cx="654.69" cy="483.90" r="1.65"/><circle cx="655.98" cy="483.77" r="1.65"/><circle cx="657.27" cy="483.64" r="1.65"/><circle cx="658.56" cy="483.51" r="1.65"/><circle cx="659.85" cy="483.38" r="1.65"/><circle cx="661.14" cy="483.26" r="1.65"/><circle cx="662.43" cy="483.13" r="1.65"/><circle cx="663.72" cy="483.01" r="1.65"/><circle cx="665.01" cy="482.88" r="1.65"/><circle cx="666.30" cy="482.76" r="1.65"/></g>
<text x="0" y="0" transform="translate(412.40,472.70) scale(1.05,1)" font-size="17.5" text-anchor="start" fill="#2473B5" stroke="#2473B5" >Sn@Cu mesh||Li</text>
<text x="0" y="0" transform="translate(413.40,570.20) scale(1.05,1)" font-size="17.5" text-anchor="start" fill="#EE8A66" stroke="#EE8A66" >Cu mesh||Li</text>
<text x="0" y="0" transform="translate(567.60,484.40) scale(1.09,1)" font-size="17.5" text-anchor="start" fill="#000" stroke="#000" ><tspan font-style="italic">i</tspan><tspan font-size="14" dx="1.8" dy="-5.8">0</tspan><tspan dy="5.8">=</tspan><tspan dx="2.4">21.2</tspan></text>
<text x="0" y="0" transform="translate(573.50,568.50) scale(1.07,1)" font-size="17.5" text-anchor="start" fill="#000" stroke="#000" ><tspan font-style="italic">i</tspan><tspan font-size="14" dx="0.7" dy="-5.8">0</tspan><tspan dy="5.8">=</tspan><tspan dx="5.6">7.63</tspan></text>
<text x="0" y="0" transform="translate(555.00,687.20) scale(1.05,1)" font-size="17.5" text-anchor="middle" fill="#000" stroke="#000" font-weight="bold" >Overpotential (V)</text>
<text x="0" y="0" transform="translate(375.50,549.20) rotate(-90) scale(1.035,1)" font-size="17.5" text-anchor="middle" fill="#000" stroke="#000" font-weight="bold">lg[<tspan font-style="italic">i</tspan> (mA)]</text>
<text x="0" y="0" transform="translate(9.00,16.60) scale(1.05,1)" font-size="22" text-anchor="start" fill="#000" stroke="#000" font-weight="bold" >a</text>
<text x="0" y="0" transform="translate(360.20,16.60) scale(1.05,1)" font-size="22" text-anchor="start" fill="#000" stroke="#000" font-weight="bold" >b</text>
<text x="0" y="0" transform="translate(8.60,180.40) scale(1.05,1)" font-size="22" text-anchor="start" fill="#000" stroke="#000" font-weight="bold" >c</text>
<text x="0" y="0" transform="translate(360.20,183.60) scale(1.05,1)" font-size="22" text-anchor="start" fill="#000" stroke="#000" font-weight="bold" >d</text>
<text x="0" y="0" transform="translate(8.90,450.40) scale(1.05,1)" font-size="22" text-anchor="start" fill="#000" stroke="#000" font-weight="bold" >e</text>
<text x="0" y="0" transform="translate(360.60,454.80) scale(1.05,1)" font-size="22" text-anchor="start" fill="#000" stroke="#000" font-weight="bold" >f</text>
</svg>
</body></html>
